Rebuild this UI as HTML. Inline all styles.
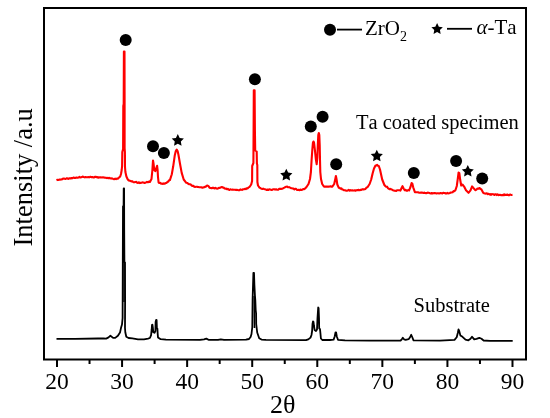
<!DOCTYPE html>
<html><head><meta charset="utf-8"><style>
html,body{margin:0;padding:0;background:#fff;width:550px;height:418px;overflow:hidden}
svg{display:block}
</style></head><body>
<svg width="550" height="418" viewBox="0 0 550 418">
<rect x="0" y="0" width="550" height="418" fill="#fff"/>
<polyline points="56.5,180.2 57.38,179.79 58.25,179.94 59.12,179.62 60,179.6 60.94,179.54 61.88,179.41 62.82,178.69 63.76,178.47 64.7,178.8 65.58,179.04 66.47,178.36 67.35,178.23 68.23,178.9 69.12,178.27 70,178.2 70.86,178.45 71.71,178 72.57,178.08 73.43,177.51 74.29,177.91 75.14,178.05 76,177.6 76.87,177.56 77.73,177.71 78.6,177.57 79.47,176.9 80.33,177.52 81.2,177.29 82.07,176.93 82.93,176.6 83.8,177 84.69,177.35 85.57,176.94 86.46,177.18 87.34,177.32 88.23,177.14 89.11,177.34 90,176.9 90.81,176.83 91.62,177.28 92.44,176.96 93.25,177.49 94.06,177.47 94.88,176.72 95.69,176.8 96.5,177.2 97.31,176.95 98.12,177.74 98.94,177.25 99.75,177.48 100.56,177.19 101.38,177.43 102.19,177.35 103,177.5 103.9,177.39 104.8,177.67 105.7,177.71 106.6,178.08 107.5,177.9 108.4,178.19 109.3,177.8 110.2,178.32 111.1,178.62 112,178.3 113.15,178.92 114.3,179.2 115.17,178.63 116.03,179.09 116.9,178.5 117.85,178.61 118.8,177.8 120.2,176.5 121,174 121.7,170 122.1,166 122.3,152 123.1,149 123.3,106 123.7,104 123.9,51.5 124.5,51.5 124.6,100 124.6,148 124.9,152 125,167 125.4,172 126.4,176.5 127.8,179.5 128.75,180.45 129.7,180.6 130.52,180.97 131.35,181.41 132.18,181.21 133,181.8 133.83,182.25 134.67,182.12 135.5,181.95 136.33,181.85 137.17,182.77 138,183.02 138.83,182.24 139.67,183.08 140.5,182.9 141.42,182.73 142.33,182.38 143.25,182.44 144.17,182.84 145.08,182.86 146,182.4 146.97,181.84 147.95,182.31 148.93,181.64 149.9,182 151.5,179 152.4,170 153,160.5 153.6,164 154.3,170 155.3,171.2 156.3,168 157.1,165.8 157.6,170 158,177 158.6,182.5 159.45,182.99 160.3,182.88 161.15,183.71 162,183.6 162.92,183.96 163.84,183.37 164.76,183.74 165.68,182.93 166.6,183 167.43,181.85 168.25,181.65 169.07,180.36 169.9,180.1 171.8,174.2 173.2,166.3 174.7,155.8 175.8,151 176.7,149.6 177.6,151 178.4,154.5 180,163.7 181.7,172.9 183.7,179.5 186.3,182.8 187.18,182.93 188.07,183.57 188.95,184.21 189.83,184.19 190.72,184.51 191.6,185.4 192.48,186.05 193.36,185.77 194.24,186.7 195.12,186.92 196,186.8 196.8,186.74 197.6,186.88 198.4,187 199.2,187.18 200,187.2 200.8,187.22 201.6,187.34 202.4,187.72 203.2,187.35 204,187.4 204.88,186.88 205.75,186.72 206.62,185.79 207.5,185.6 208.5,186.2 209.5,187.68 210.5,188 211.33,188.08 212.17,188.16 213,187.68 213.83,188.14 214.67,188.36 215.5,187.85 216.33,188.5 217.17,188.58 218,188.5 218.97,187.69 219.95,187.88 220.93,187.34 221.9,187 222.75,187.56 223.6,187.62 224.45,188.36 225.3,188.77 226.15,188.44 227,189.3 227.82,188.92 228.64,189.6 229.46,189.96 230.29,189.31 231.11,189.58 231.93,189.78 232.75,189.57 233.57,189.68 234.39,189.69 235.21,189.81 236.04,190.1 236.86,189.87 237.68,190.01 238.5,190.2 239.42,190.32 240.33,189.43 241.25,189.82 242.17,189.84 243.08,189.26 244,189.3 244.88,188.8 245.75,189.15 246.62,188.36 247.5,188.4 248.5,187.39 249.5,187 251.2,184.5 252.1,181 252.2,166 253.4,163 253.6,130 253.8,90.3 254.6,90.3 254.9,130 255.2,150.5 256.7,151.5 256.9,163.5 257.3,165 257.4,182 258,185.5 259.5,187.6 260.4,188.04 261.3,188.6 262.22,189 263.14,188.6 264.06,189.02 264.98,189.23 265.9,189.6 266.74,189.93 267.58,189.54 268.42,189.96 269.25,189.27 270.09,189.44 270.93,189.75 271.77,189.98 272.61,189.55 273.45,189.33 274.28,189.22 275.12,189.63 275.96,189.29 276.8,189.6 277.62,189.73 278.45,189.59 279.27,188.76 280.1,188.68 280.93,189.03 281.75,188.69 282.57,188.68 283.4,188.2 284.35,187.65 285.3,187.03 286.25,186.79 287.2,186.6 288.15,187.29 289.1,187.17 290.05,187.65 291,188.2 291.84,188.29 292.69,188.48 293.53,188.64 294.38,189.33 295.22,188.74 296.07,188.77 296.91,189.89 297.76,190 298.6,189.8 299.52,190.19 300.43,189.53 301.35,189.95 302.27,189.83 303.18,189.02 304.1,189.2 305.3,188.35 306.5,187 308.5,184 310,179 310.9,172 311.6,160 312.3,150 312.9,143 313.5,141.5 314.1,143 314.9,150 315.8,159 316.7,164.2 317.3,158 317.8,145 318.3,135 318.8,133 319.3,135 319.7,145 320,160 320.3,172 321,179 322.2,184 323.7,186.3 324.56,186.74 325.42,186.66 326.28,186.62 327.14,186.49 328,186.8 328.86,186.6 329.72,186.45 330.58,186.25 331.44,186.73 332.3,186.6 334.2,184 335.3,179 335.9,176 336.5,179 337.3,184.5 338.8,187.8 339.69,187.93 340.57,188.8 341.46,188.37 342.34,189.58 343.23,189.71 344.11,190.28 345,190.2 345.91,190.64 346.83,190.69 347.74,190.41 348.66,189.88 349.57,190.66 350.49,190.13 351.4,190.5 352.22,190.26 353.05,190.59 353.88,190.41 354.7,190.26 355.52,190.75 356.35,190.39 357.18,190.08 358,190.2 358.81,189.83 359.62,190.31 360.44,189.8 361.25,189.98 362.06,189.43 362.88,189.15 363.69,189.36 364.5,189.2 365.5,188.88 366.5,187.6 367.5,187.3 369.6,184 371.2,179.5 372.6,173.5 374,168.5 375.5,165.5 376.35,165.44 377.2,164.8 378,165.82 378.8,166 380,169.5 382.2,179.5 384.4,185 385.26,186.03 386.12,186.76 386.98,186.67 387.84,188.01 388.7,188.6 389.53,189.28 390.36,188.78 391.19,189.31 392.01,189.63 392.84,190.2 393.67,190.41 394.5,190.8 395.34,190.74 396.19,191.02 397.03,190.22 397.87,190.24 398.71,190.28 399.56,190.25 400.4,190.6 401.6,188 402.5,186.2 403.6,188.5 404.7,190.2 405.58,189.81 406.46,190.75 407.34,190.67 408.22,189.95 409.1,190.4 410.5,187 411.6,183 412.3,183.5 413.2,187.3 414.9,192.2 415.77,192.28 416.64,192.18 417.51,192.25 418.38,192.37 419.25,192.75 420.12,192.77 420.99,192.62 421.86,192.53 422.73,192.75 423.6,193 424.41,192.64 425.22,193.09 426.03,193.27 426.84,192.95 427.66,192.66 428.47,192.78 429.28,192.99 430.09,193.24 430.9,193.43 431.71,193.05 432.52,193.48 433.33,193.32 434.14,193.15 434.96,193.11 435.77,193.25 436.58,193.47 437.39,193.2 438.2,193.3 439.03,193.47 439.86,193.22 440.69,192.98 441.51,193.25 442.34,193.39 443.17,192.74 444,193.07 444.83,193.05 445.66,193.49 446.49,193.52 447.31,192.94 448.14,193.44 448.97,193.31 449.8,193 450.73,192.53 451.67,192.5 452.6,192.3 453.57,191.16 454.53,191.08 455.5,190 456.8,186 457.7,179.3 458.6,172.5 459.3,173 460.1,179.3 461.2,185.5 462.6,184.6 464.1,186.6 466,190.3 468.5,192.8 470.5,190.4 472.1,186.4 473.6,188.2 475.5,190.2 476.5,189.56 477.5,188.6 478.55,188.69 479.6,188 480.45,188.94 481.3,189.3 483.2,192.8 484.1,193.21 485,193.52 485.9,193.59 486.8,193.37 487.7,194.1 488.6,193.76 489.5,194.5 490.31,194.17 491.12,194.82 491.92,194.11 492.73,194.18 493.54,194.21 494.35,195.02 495.15,194.34 495.96,194.21 496.77,195.05 497.58,194.35 498.38,195.1 499.19,194.95 500,194.8 500.83,195.14 501.67,195.27 502.5,194.9 503.33,195.13 504.17,194.37 505,195.11 505.83,194.86 506.67,195.07 507.5,194.47 508.33,195.12 509.17,195.31 510,194.44 510.83,194.71 511.67,194.96 512.5,194.9" fill="none" stroke="#ff0000" stroke-width="2.1" stroke-linejoin="round"/>
<polyline points="56.5,338.9 75,338.9 98,338.5 103.4,338.4 106.1,338.6 108.2,337.6 110.4,335.8 113.1,337.9 115.2,337.9 117.9,335.8 120,332.6 121.1,327.5 122,324.5 122.6,318 122.8,260 123,206.5 123.6,205.5 123.7,188.5 124.1,188.5 124.2,230 124.4,262 125,262.5 125.1,300 125,328 125.3,332.3 126.3,336.8 128.6,338 132.4,338.4 138,339.3 144,339.3 148,338.6 149.9,338 151.1,335.1 151.7,329.2 152,325 152.4,324.6 152.9,328 153.3,332.2 154.5,332.8 155.4,331 155.6,322 156.2,319.8 156.6,320 156.9,328.2 157.4,328.6 157.7,334 158,337.4 160.7,339.2 166,339.6 200,339.8 204,339.3 206.3,338.6 208.5,339.8 218,339.8 220.8,339.3 224,339.8 246,339.7 249,339 250.6,337 251.5,334 252.3,327 252.6,300 253.4,272.8 254,272.8 254.4,285 254.9,295 255.3,300 255.7,310 256.1,313.5 256.2,324 257.2,332.5 259.2,338.2 261.5,339.6 266,339.8 306,340.2 308.3,339.4 310.5,337.6 311.5,335 312.1,331 312.5,324 313,321.5 313.5,322 314,326 314.6,330 316,331 317,329.5 317.5,318 318.2,307.5 318.6,308 319,318 319.2,328.4 320,329.2 320.5,334 320.9,338.5 322.3,340 330,340 333.6,339.6 334.7,336.5 335.5,332.3 336.1,332.3 336.8,336.5 338,339.8 345,340.4 370,340.7 400.6,340.5 401.8,339.3 402.8,337.8 404,339.3 405.7,339.8 408.6,339.2 410.2,337 411.2,334.8 412.2,337 413.5,340.3 440,340.6 454.5,339.9 456.7,337.2 457.8,333 458.5,329.5 459.2,331 460.4,335.4 462.5,336.8 465.5,339.6 468.4,340.3 470.5,338.8 472,336.8 473.2,338.2 474.2,339.4 476.5,338.8 479.3,337.8 481.5,338.8 483.6,340.5 490,340.8 512.7,340.9" fill="none" stroke="#000" stroke-width="1.8" stroke-linejoin="round"/>
<line x1="124" y1="207" x2="124" y2="302" stroke="#000" stroke-width="1.4"/>
<line x1="254.2" y1="296" x2="254.5" y2="328" stroke="#000" stroke-width="1.6"/>
<rect x="44" y="8" width="482" height="351.5" fill="none" stroke="#000" stroke-width="2"/>
<line x1="57.00" y1="359" x2="57.00" y2="367" stroke="#000" stroke-width="2"/><line x1="122.07" y1="359" x2="122.07" y2="367" stroke="#000" stroke-width="2"/><line x1="187.14" y1="359" x2="187.14" y2="367" stroke="#000" stroke-width="2"/><line x1="252.21" y1="359" x2="252.21" y2="367" stroke="#000" stroke-width="2"/><line x1="317.28" y1="359" x2="317.28" y2="367" stroke="#000" stroke-width="2"/><line x1="382.35" y1="359" x2="382.35" y2="367" stroke="#000" stroke-width="2"/><line x1="447.42" y1="359" x2="447.42" y2="367" stroke="#000" stroke-width="2"/><line x1="512.49" y1="359" x2="512.49" y2="367" stroke="#000" stroke-width="2"/><line x1="89.53" y1="359" x2="89.53" y2="364" stroke="#000" stroke-width="2"/><line x1="154.60" y1="359" x2="154.60" y2="364" stroke="#000" stroke-width="2"/><line x1="219.67" y1="359" x2="219.67" y2="364" stroke="#000" stroke-width="2"/><line x1="284.75" y1="359" x2="284.75" y2="364" stroke="#000" stroke-width="2"/><line x1="349.81" y1="359" x2="349.81" y2="364" stroke="#000" stroke-width="2"/><line x1="414.88" y1="359" x2="414.88" y2="364" stroke="#000" stroke-width="2"/><line x1="479.95" y1="359" x2="479.95" y2="364" stroke="#000" stroke-width="2"/>
<g font-family="'Liberation Serif', 'Times New Roman', serif" font-size="22" fill="#000" style="font-kerning:none">
<text x="57.00" y="389" text-anchor="middle" font-size="23.5">20</text><text x="122.07" y="389" text-anchor="middle" font-size="23.5">30</text><text x="187.14" y="389" text-anchor="middle" font-size="23.5">40</text><text x="252.21" y="389" text-anchor="middle" font-size="23.5">50</text><text x="317.28" y="389" text-anchor="middle" font-size="23.5">60</text><text x="382.35" y="389" text-anchor="middle" font-size="23.5">70</text><text x="447.42" y="389" text-anchor="middle" font-size="23.5">80</text><text x="512.49" y="389" text-anchor="middle" font-size="23.5">90</text>
<text x="282.7" y="412.5" text-anchor="middle" font-size="26">2θ</text>
<text transform="translate(31.8,177.3) rotate(-90)" text-anchor="middle" font-size="26.5">Intensity /a.u</text>
<text x="365" y="35" font-size="21">ZrO<tspan font-size="14" dy="6">2</tspan></text>
<text x="476.5" y="34.3" font-size="21"><tspan font-style="italic">α</tspan>-Ta</text>
<text x="356" y="129.4" font-size="20.5">Ta coated specimen</text>
<text x="413.5" y="312" font-size="20.5">Substrate</text>
</g>
<line x1="337" y1="29.6" x2="362" y2="29.6" stroke="#000" stroke-width="1.8"/>
<line x1="447" y1="28.8" x2="472" y2="28.8" stroke="#000" stroke-width="1.8"/>
<circle cx="125.7" cy="39.9" r="6.0" fill="#000"/><circle cx="153" cy="146.3" r="6.0" fill="#000"/><circle cx="163.9" cy="152.9" r="6.0" fill="#000"/><circle cx="254.9" cy="79.3" r="6.0" fill="#000"/><circle cx="310.8" cy="126.5" r="6.0" fill="#000"/><circle cx="322.6" cy="116.8" r="6.0" fill="#000"/><circle cx="336.2" cy="164.2" r="6.0" fill="#000"/><circle cx="413.8" cy="172.9" r="6.0" fill="#000"/><circle cx="456.1" cy="160.9" r="6.0" fill="#000"/><circle cx="482.2" cy="178.5" r="6.0" fill="#000"/><circle cx="330" cy="29.8" r="6.0" fill="#000"/>
<path d="M177.80,134.10 L179.68,137.91 L183.89,138.52 L180.84,141.49 L181.56,145.68 L177.80,143.70 L174.04,145.68 L174.76,141.49 L171.71,138.52 L175.92,137.91Z" fill="#000"/><path d="M286.30,168.80 L288.18,172.61 L292.39,173.22 L289.34,176.19 L290.06,180.38 L286.30,178.40 L282.54,180.38 L283.26,176.19 L280.21,173.22 L284.42,172.61Z" fill="#000"/><path d="M376.80,149.70 L378.68,153.51 L382.89,154.12 L379.84,157.09 L380.56,161.28 L376.80,159.30 L373.04,161.28 L373.76,157.09 L370.71,154.12 L374.92,153.51Z" fill="#000"/><path d="M467.80,165.10 L469.65,168.85 L473.79,169.45 L470.80,172.37 L471.50,176.50 L467.80,174.55 L464.10,176.50 L464.80,172.37 L461.81,169.45 L465.95,168.85Z" fill="#000"/><path d="M437.10,23.10 L438.86,26.67 L442.81,27.25 L439.95,30.03 L440.63,33.95 L437.10,32.10 L433.57,33.95 L434.25,30.03 L431.39,27.25 L435.34,26.67Z" fill="#000"/>
</svg>
</body></html>
